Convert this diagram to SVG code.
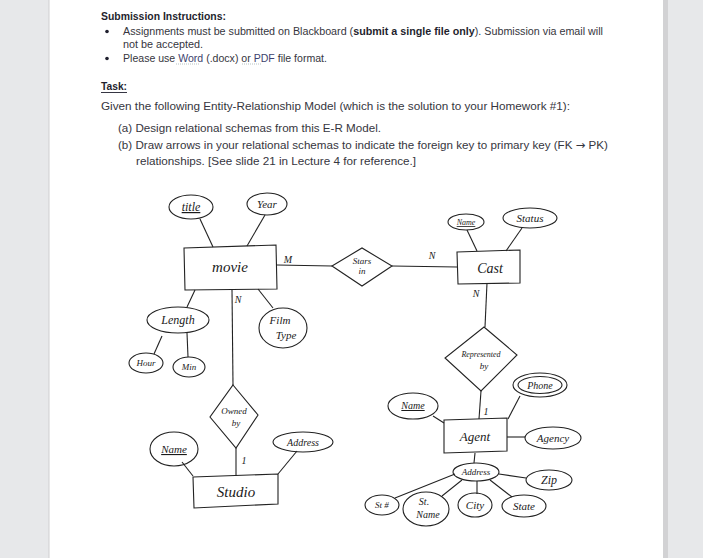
<svg xmlns="http://www.w3.org/2000/svg" width="703" height="558" viewBox="0 0 703 558">
<style>
.doc{font-family:"Liberation Sans",Arial,sans-serif;fill:#363640}
.b{font-weight:bold;fill:#1f1f2e}
.hw{font-family:"Liberation Serif","DejaVu Serif",serif;font-style:italic;fill:#1a1a1a;text-anchor:middle}
.sh{fill:none;stroke:#222;stroke-width:1.1}
.ln{stroke:#222;stroke-width:1.1;fill:none}
</style>
<rect x="0" y="0" width="703" height="558" fill="#e7e8ea"/>
<rect x="49" y="0" width="614" height="558" fill="#ffffff"/>
<rect x="663" y="0" width="5" height="558" fill="#d2d2d4"/>
<line x1="49" y1="0" x2="49" y2="558" stroke="#cfcfd1" stroke-width="1"/>

<g id="instructions">
<text class="doc b" x="101" y="20" font-size="10.5" textLength="125" lengthAdjust="spacingAndGlyphs">Submission Instructions:</text>
<circle cx="107" cy="31.5" r="1.8" fill="#1f1f2e"/>
<text class="doc" x="123" y="35" font-size="10" textLength="480" lengthAdjust="spacingAndGlyphs">Assignments must be submitted on Blackboard (<tspan class="b">submit a single file only</tspan>). Submission via email will</text>
<text class="doc" x="123" y="48" font-size="10" textLength="80" lengthAdjust="spacingAndGlyphs">not be accepted.</text>
<circle cx="107" cy="58.5" r="1.8" fill="#1f1f2e"/>
<text class="doc" x="123" y="62" font-size="10" textLength="204" lengthAdjust="spacingAndGlyphs">Please use <tspan fill="#3d3f6e">Word</tspan> (.docx) or <tspan fill="#3d3f6e">PDF</tspan> file format.</text>
<line x1="176" y1="64" x2="200" y2="64" stroke="#9aa" stroke-width="0.7" stroke-dasharray="1,1"/>
<line x1="242" y1="64" x2="261" y2="64" stroke="#9aa" stroke-width="0.7" stroke-dasharray="1,1"/>
</g>

<g id="task">
<text class="doc b" x="101" y="90" font-size="11.5" textLength="26" lengthAdjust="spacingAndGlyphs">Task:</text>
<line x1="101" y1="92.5" x2="127" y2="92.5" stroke="#1f1f2e" stroke-width="0.9"/>
<text class="doc" x="101" y="110" font-size="11.5" textLength="469" lengthAdjust="spacingAndGlyphs">Given the following Entity-Relationship Model (which is the solution to your Homework #1):</text>
<text class="doc" x="118" y="132" font-size="11.5" textLength="263" lengthAdjust="spacingAndGlyphs">(a) Design relational schemas from this E-R Model.</text>
<text class="doc" x="118" y="149" font-size="11.5" textLength="490" lengthAdjust="spacingAndGlyphs">(b) Draw arrows in your relational schemas to indicate the foreign key to primary key (FK <tspan font-family="DejaVu Sans">→</tspan> PK)</text>
<text class="doc" x="136" y="165" font-size="11.5" textLength="280" lengthAdjust="spacingAndGlyphs">relationships. [See slide 21 in Lecture 4 for reference.]</text>
</g>

<g id="connectors">
<line class="ln" x1="200" y1="219" x2="213" y2="247"/>
<line class="ln" x1="265" y1="215" x2="247" y2="246"/>
<line class="ln" x1="277" y1="265" x2="332" y2="266"/>
<line class="ln" x1="195" y1="290" x2="187" y2="307"/>
<line class="ln" x1="258" y1="289" x2="273" y2="308"/>
<line class="ln" x1="232" y1="290" x2="233" y2="385"/>
<line class="ln" x1="162" y1="336" x2="154" y2="354"/>
<line class="ln" x1="187" y1="333" x2="188" y2="357"/>
<line class="ln" x1="236" y1="448" x2="236" y2="476"/>
<line class="ln" x1="182" y1="462" x2="193" y2="476"/>
<line class="ln" x1="297" y1="451" x2="278" y2="474"/>
<line class="ln" x1="467" y1="230" x2="477" y2="251"/>
<line class="ln" x1="522" y1="228" x2="506" y2="251"/>
<line class="ln" x1="392" y1="266" x2="457" y2="267"/>
<line class="ln" x1="487" y1="283" x2="485" y2="327"/>
<line class="ln" x1="481" y1="391" x2="479" y2="419"/>
<line class="ln" x1="520" y1="396" x2="508" y2="419"/>
<line class="ln" x1="433" y1="416" x2="444" y2="423"/>
<line class="ln" x1="507" y1="437" x2="525" y2="437"/>
<line class="ln" x1="475" y1="453" x2="474" y2="463"/>
<line class="ln" x1="499" y1="474" x2="526" y2="478"/>
<line class="ln" x1="455" y1="474" x2="395" y2="498"/>
<line class="ln" x1="462" y1="480" x2="442" y2="496"/>
<line class="ln" x1="477" y1="481" x2="477" y2="494"/>
<line class="ln" x1="490" y1="480" x2="512" y2="497"/>
<text class="hw" x="288" y="263" font-size="10">M</text>
<text class="hw" x="238" y="303" font-size="10">N</text>
<text class="hw" x="244" y="464" font-size="10">1</text>
<text class="hw" x="432" y="259" font-size="10">N</text>
<text class="hw" x="476" y="297" font-size="10">N</text>
<text class="hw" x="486" y="415" font-size="10">1</text>
</g>

<g id="movie">
<polygon class="sh" points="184,248 276,245 277,289 185,290"/>
<text class="hw" x="230" y="272" font-size="15">movie</text>
</g>
<g id="title">
<ellipse class="sh" cx="191" cy="207" rx="22" ry="12"/>
<text class="hw" x="191" y="211" font-size="12" text-decoration="underline">title</text>
</g>
<g id="year">
<ellipse class="sh" cx="267" cy="204" rx="20" ry="11"/>
<text class="hw" x="267" y="208" font-size="11">Year</text>
</g>
<g id="length">
<ellipse class="sh" cx="178" cy="320" rx="31" ry="13"/>
<text class="hw" x="178" y="324" font-size="12">Length</text>
</g>
<g id="hour">
<ellipse class="sh" cx="146" cy="363" rx="17" ry="10"/>
<text class="hw" x="146" y="366" font-size="9">Hour</text>
</g>
<g id="min">
<ellipse class="sh" cx="189" cy="367" rx="16" ry="10"/>
<text class="hw" x="189" y="370" font-size="9">Min</text>
</g>
<g id="filmtype">
<ellipse class="sh" cx="283" cy="328" rx="24" ry="20"/>
<text class="hw" x="280" y="324" font-size="11">Film</text>
<text class="hw" x="286" y="339" font-size="11">Type</text>
</g>
<g id="starsin">
<polygon class="sh" points="332,266 362,248 392,266 362,286"/>
<text class="hw" x="362" y="264" font-size="9">Stars</text>
<text class="hw" x="362" y="274" font-size="9">in</text>
</g>
<g id="ownedby">
<polygon class="sh" points="233,385 258,415 236,448 210,417"/>
<text class="hw" x="234" y="414" font-size="9">Owned</text>
<text class="hw" x="236" y="426" font-size="9">by</text>
</g>
<g id="studio">
<polygon class="sh" points="193,477 278,474 278,504 194,508"/>
<text class="hw" x="236" y="497" font-size="15">Studio</text>
</g>
<g id="studioname">
<ellipse class="sh" cx="174" cy="449" rx="24" ry="17"/>
<text class="hw" x="174" y="453" font-size="11" text-decoration="underline">Name</text>
</g>
<g id="studioaddress">
<ellipse class="sh" cx="303" cy="442" rx="30" ry="10"/>
<text class="hw" x="303" y="446" font-size="10">Address</text>
</g>
<g id="cast">
<polygon class="sh" points="457,252 520,250 520,283 458,284"/>
<text class="hw" x="490" y="273" font-size="14">Cast</text>
</g>
<g id="castname">
<ellipse class="sh" cx="466" cy="222" rx="18" ry="8"/>
<text class="hw" x="466" y="225" font-size="8" text-decoration="underline">Name</text>
</g>
<g id="status">
<ellipse class="sh" cx="530" cy="218" rx="27" ry="10"/>
<text class="hw" x="530" y="222" font-size="11">Status</text>
</g>
<g id="representedby">
<polygon class="sh" points="484,327 517,355 481,391 445,358"/>
<text class="hw" x="481" y="357" font-size="8">Represented</text>
<text class="hw" x="484" y="369" font-size="9">by</text>
</g>
<g id="agent">
<polygon class="sh" points="444,420 507,418 507,451 444,453"/>
<text class="hw" x="475" y="441" font-size="13">Agent</text>
</g>
<g id="agentname">
<ellipse class="sh" cx="413" cy="406" rx="25" ry="13"/>
<text class="hw" x="413" y="409" font-size="10" text-decoration="underline">Name</text>
</g>
<g id="phone">
<ellipse class="sh" cx="540" cy="385" rx="27" ry="12"/>
<ellipse class="sh" cx="540" cy="385" rx="22" ry="8.5"/>
<text class="hw" x="540" y="389" font-size="10">Phone</text>
</g>
<g id="agency">
<ellipse class="sh" cx="553" cy="438" rx="28" ry="11"/>
<text class="hw" x="553" y="442" font-size="11">Agency</text>
</g>
<g id="address">
<ellipse class="sh" cx="476" cy="472" rx="23" ry="9"/>
<text class="hw" x="476" y="475" font-size="9">Address</text>
</g>
<g id="zip">
<ellipse class="sh" cx="549" cy="480" rx="23" ry="10"/>
<text class="hw" x="549" y="484" font-size="12">Zip</text>
</g>
<g id="stnum">
<ellipse class="sh" cx="382" cy="505" rx="17" ry="10"/>
<text class="hw" x="382" y="508" font-size="9">St #</text>
</g>
<g id="stname">
<ellipse class="sh" cx="426" cy="509" rx="23" ry="17"/>
<text class="hw" x="424" y="505" font-size="10">St.</text>
<text class="hw" x="428" y="518" font-size="10">Name</text>
</g>
<g id="city">
<ellipse class="sh" cx="475" cy="505" rx="17" ry="12"/>
<text class="hw" x="475" y="509" font-size="11">City</text>
</g>
<g id="state">
<ellipse class="sh" cx="524" cy="506" rx="22" ry="11"/>
<text class="hw" x="524" y="510" font-size="11">State</text>
</g>
</svg>
